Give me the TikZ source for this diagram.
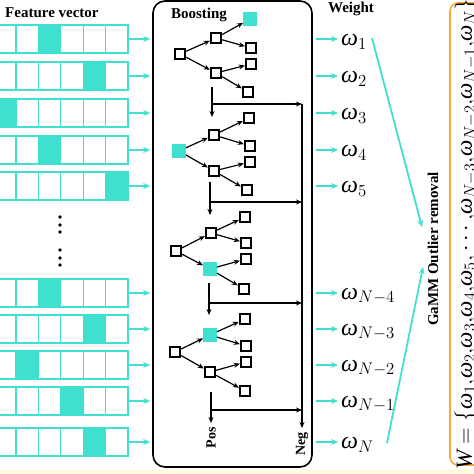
\RequirePackage{fix-cm}
\documentclass[tikz,border=0pt]{standalone}
\usepackage{fontspec}
\setmainfont{Liberation Serif}
\usetikzlibrary{arrows.meta}
\definecolor{aqua}{RGB}{64,224,208}
\definecolor{amber}{RGB}{242,170,60}
\definecolor{cream}{RGB}{255,250,226}
\newcommand{\om}{\mbox{\itshape ω}}
\begin{document}
\begin{tikzpicture}[x=1pt,y=-1pt,
  cell/.style={draw=aqua,line width=1.2pt},
  feed/.style={-{Stealth[length=7pt,width=6pt]},aqua,line width=1.8pt},
  edge/.style={-{Stealth[length=6pt,width=5pt]},line width=1.2pt},
  sq/.style={draw,line width=1.8pt,fill=white,minimum size=10.5pt,inner sep=0pt},
  hot/.style={fill=aqua,minimum size=13.5pt,inner sep=0pt},
  lbl/.style={font=\bfseries\fontsize{15}{18}\selectfont,inner sep=0pt},
  wt/.style={font=\fontsize{24}{28}\selectfont,inner sep=1pt,anchor=west}]
\useasboundingbox (0,0) rectangle (474,474);
\clip (0,0) rectangle (474,474);
\fill[cream] (0,469) rectangle (474,474);

\node[lbl,anchor=west] (fvtitle) at (5,13) {Feature vector};
\node[lbl] (bttitle) at (199,15) {Boosting};
\node[lbl] (wttitle) at (351,9) {Weight};

% boosting frame
\node[draw,line width=1.6pt,rounded corners=12pt,minimum width=159pt,minimum height=466pt,inner sep=0pt] (boost) at (232.5,234) {};

% feature vectors and weights
\foreach \t/\h/\s [count=\i] in {25/2/1,62/4/2,99/0/3,136/2/4,172/5/5,279/2/N-4,315/4/N-3,351/1/N-2,387/3/N-1,428/4/N} {
  \node[minimum width=134.4pt,minimum height=28pt,inner sep=0pt] (fv\i) at (60.8,\t+14) {};
  \fill[aqua] (-6.4+22.4*\h,\t) rectangle ++(22.4,28);
  \foreach \k in {0,...,5} \draw[cell] (-6.4+22.4*\k,\t) rectangle ++(22.4,28);
  \draw[feed,shorten >=2pt] (fv\i.east) -- (fv\i.east -| boost.west);
  \node[wt] (w\i) at (340,\t+17) {$\om_{\s}$};
  \draw[feed,shorten <=3pt,shorten >=2pt] (fv\i.east -| boost.east) -- (fv\i.east -| w\i.west);
}
\foreach \y in {217,225,232,250,258,265} \fill (60,\y) circle (1.8);

% trees
\node[sq] (r1) at (180,54) {};   \node[sq] (p1) at (216,38) {};   \node[sq] (q1) at (216,73) {};
\node[hot] (pu1) at (250,19) {}; \node[sq] (pd1) at (251,48) {}; \node[sq] (qu1) at (251,64) {}; \node[sq] (qd1) at (248,92) {};
\node[hot] (r2) at (179,151) {}; \node[sq] (p2) at (214,135) {}; \node[sq] (q2) at (214,171) {};
\node[sq] (pu2) at (249,118) {}; \node[sq] (pd2) at (250,146) {}; \node[sq] (qu2) at (250,162) {}; \node[sq] (qd2) at (247,190) {};
\node[sq] (r3) at (176,251) {};  \node[sq] (p3) at (211,233) {}; \node[hot] (q3) at (210,269) {};
\node[sq] (pu3) at (245,217) {}; \node[sq] (pd3) at (246,243) {}; \node[sq] (qu3) at (246,259) {}; \node[sq] (qd3) at (244,289) {};
\node[sq] (r4) at (175,352) {};  \node[hot] (p4) at (210,335) {}; \node[sq] (q4) at (210,372) {};
\node[sq] (pu4) at (245,319) {}; \node[sq] (pd4) at (246,346) {}; \node[sq] (qu4) at (246,362) {}; \node[sq] (qd4) at (245,391) {};
\foreach \n in {1,...,4} {
  \draw[edge] (r\n) -- (p\n);  \draw[edge] (r\n) -- (q\n);
  \draw[edge] (p\n) -- (pu\n); \draw[edge] (p\n) -- (pd\n);
  \draw[edge] (q\n) -- (qu\n); \draw[edge] (q\n) -- (qd\n);
}

% pos / neg paths
\coordinate (negtop) at (302,104);
\coordinate (negend) at (302,428);
\coordinate (drop1) at (212,87);  \coordinate (land1) at (212,117); \coordinate (fork1) at (212,104);
\coordinate (drop2) at (210,182); \coordinate (land2) at (210,215); \coordinate (fork2) at (210,202);
\coordinate (drop3) at (209,283); \coordinate (land3) at (209,315); \coordinate (fork3) at (209,303);
\coordinate (drop4) at (211,392); \coordinate (land4) at (211,423); \coordinate (fork4) at (211,410);
\foreach \n in {1,...,4} {
  \draw[edge] (drop\n) -- (land\n);
  \draw[edge] (fork\n) -- (fork\n -| negtop);
}
\draw[edge] (negtop) -- (negend);
\node[lbl,font=\bfseries\fontsize{14}{16}\selectfont,rotate=90,anchor=east] (pos) at (211,427) {Pos};
\node[lbl,font=\bfseries\fontsize{14}{16}\selectfont,rotate=90,anchor=east] (neg) at (302,432) {Neg};

% outlier removal
\node[lbl,rotate=90] (gamm) at (433,249) {GaMM Outlier removal};
\coordinate (s1) at (372,38);  \coordinate (g1) at (422,227);
\coordinate (s2) at (387,443); \coordinate (g2) at (423,267);
\draw[feed] (s1) -- (g1);
\draw[feed] (s2) -- (g2);

\draw[amber,line width=1.6pt,rounded corners=8pt] (450,3) rectangle (500,465);
\node[rotate=90,anchor=west,inner sep=0pt,font=\fontsize{23}{27}\selectfont] (wset) at (466,470)
  {$\mbox{\itshape W}=\{\om_1{,}\om_2{,}\om_3{,}\om_4{,}\om_5{,}\cdots{,}\om_{N-3}{,}\om_{N-2}{,}\om_{N-1}{,}\om_N\}$};
\end{tikzpicture}
\end{document}
